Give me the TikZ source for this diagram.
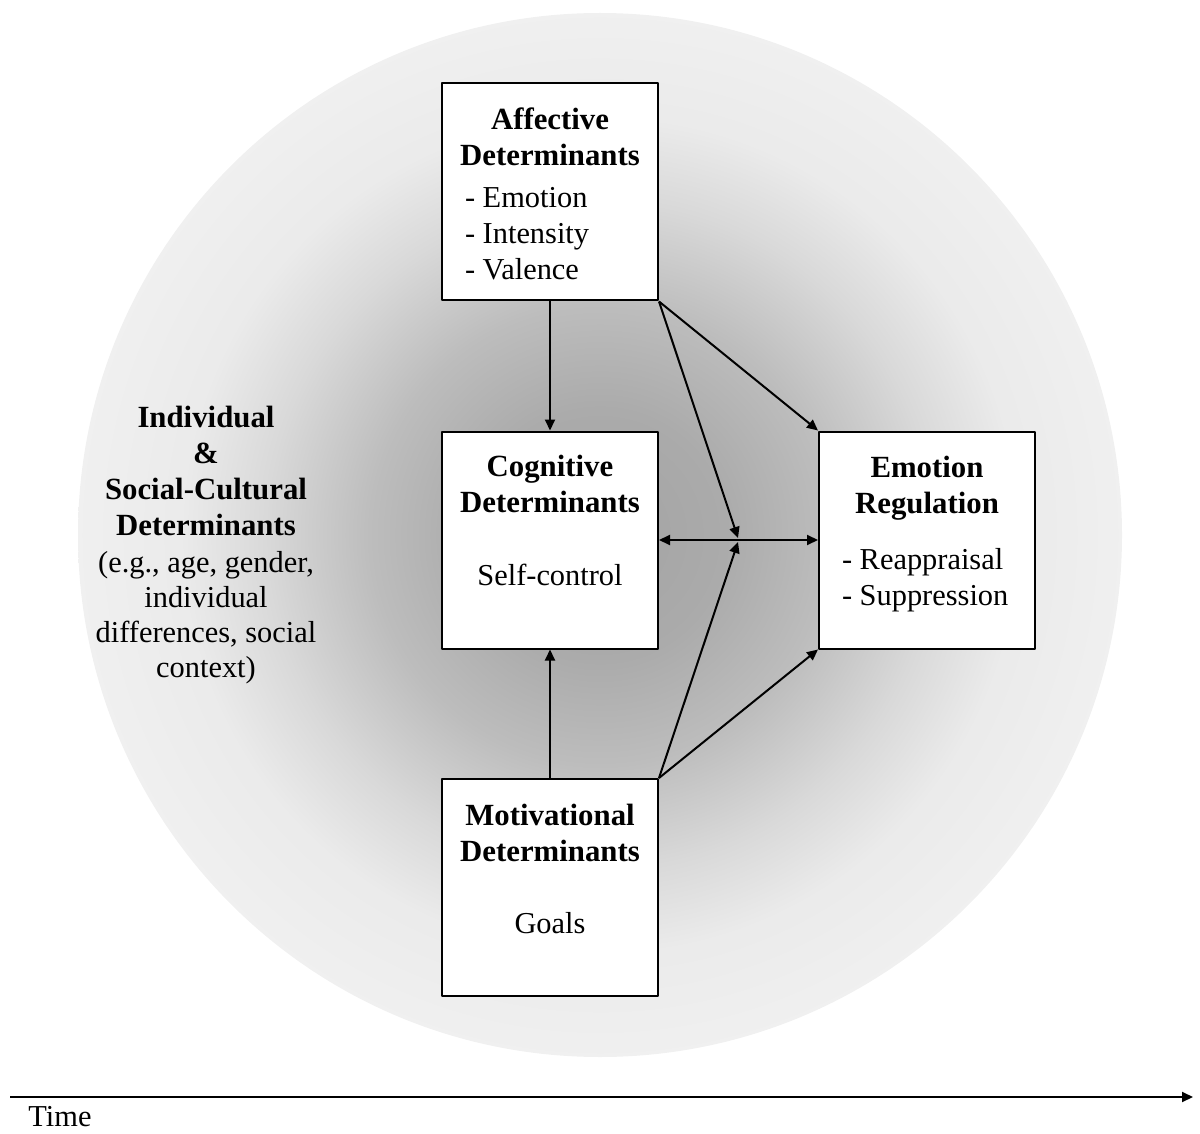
\documentclass[tikz,border=0pt]{standalone}
\usepackage{fontspec}
\setmainfont{Liberation Serif}
\usetikzlibrary{arrows.meta}
\pgfdeclareradialshading{halo}{\pgfpoint{0bp}{0bp}}{color(0bp)=(black!36); color(6bp)=(black!33); color(11bp)=(black!26); color(16bp)=(black!15); color(20bp)=(black!8); color(25bp)=(black!6); color(50bp)=(black!6)}
\begin{document}
\begin{tikzpicture}[x=0.5pt,y=-0.5pt,line join=round,line width=1pt,>={Triangle[length=5.5pt,width=5pt]}]
	\tikzset{box/.style={draw,fill=white,inner sep=0pt,minimum width=108pt,minimum height=108.5pt},
		head/.style={font=\fontsize{15.4}{18}\selectfont\bfseries,align=center,inner sep=0pt},
		body/.style={font=\fontsize{15.2}{17.5}\selectfont,align=center,inner sep=0pt},
		items/.style={font=\fontsize{15.2}{18}\selectfont,align=left,inner sep=0pt,anchor=west}}
	\useasboundingbox (0,0) rectangle (1200,1134);
	\shade[shading=halo] (600,535) circle[radius=261pt];
	% boxes
	\node[box] (aff) at (550,192) {};
	\node[box] (cog) at (550,540) {};
	\node[box] (mot) at (550,887.5) {};
	\node[box] (er) at (927,540) {};
	\node[head] (afft) at (550,137) {Affective\\Determinants};
	\node[items] (affi) at (464,234) {- Emotion\\- Intensity\\- Valence};
	\node[head] (cogt) at (550,484) {Cognitive\\Determinants};
	\node[body] (cogi) at (550,575) {Self-control};
	\node[head] (ert) at (927,488) {Emotion\\Regulation};
	\node[items] (eri) at (841,580) {- Reappraisal\\- Suppression};
	\node[head] (mott) at (550,833) {Motivational\\Determinants};
	\node[body] (moti) at (550,923) {Goals};
	\node[head] (indiv) at (206,471) {Individual\\\&\\Social-Cultural\\Determinants};
	\node[body] (indivx) at (206,618) {(e.g., age, gender,\\individual\\differences, social\\context)};
	% arrows
	\coordinate (mup) at (738,538);
	\coordinate (mdn) at (738,542);
	\draw[->] (aff) -- (cog);
	\draw[->] (mot) -- (cog);
	\draw[->] (aff.south east) -- (er.north west);
	\draw[->] (mot.north east) -- (er.south west);
	\draw[->] (aff.south east) -- (mup);
	\draw[->] (mot.north east) -- (mdn);
	\draw[<->] (cog) -- (er);
	% time axis
	\coordinate (t0) at (10,1097);
	\coordinate (t1) at (1193,1097);
	\draw[->] (t0) -- (t1);
	\node[body] (time) at (60,1117) {Time};
\end{tikzpicture}
\end{document}
